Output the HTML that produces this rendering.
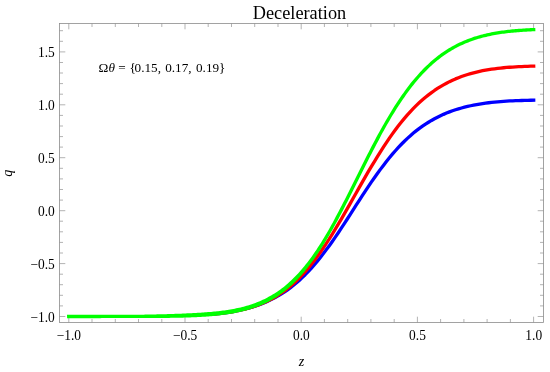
<!DOCTYPE html>
<html><head><meta charset="utf-8"><title>Deceleration</title>
<style>
html,body{margin:0;padding:0;background:#fff;}
svg{display:block;font-family:"Liberation Serif","DejaVu Serif",serif;fill:#000;}
.f{stroke:#8c8c8c;stroke-width:.8;fill:none}
.t{stroke:#808080;stroke-width:.6;fill:none}
.c{fill:none;stroke-width:3.3;stroke-linecap:square;stroke-linejoin:round}
.l{font-size:14px}
</style></head><body>
<svg width="550" height="372" viewBox="0 0 550 372">
<rect width="550" height="372" fill="#fff"/>
<path class="t" d="M68.8 322.5v-5.8M68.8 23.5v5.8M92.0 322.5v-3.5M92.0 23.5v3.5M115.3 322.5v-3.5M115.3 23.5v3.5M138.5 322.5v-3.5M138.5 23.5v3.5M161.8 322.5v-3.5M161.8 23.5v3.5M185.0 322.5v-5.8M185.0 23.5v5.8M208.2 322.5v-3.5M208.2 23.5v3.5M231.5 322.5v-3.5M231.5 23.5v3.5M254.7 322.5v-3.5M254.7 23.5v3.5M278.0 322.5v-3.5M278.0 23.5v3.5M301.2 322.5v-5.8M301.2 23.5v5.8M324.4 322.5v-3.5M324.4 23.5v3.5M347.7 322.5v-3.5M347.7 23.5v3.5M370.9 322.5v-3.5M370.9 23.5v3.5M394.2 322.5v-3.5M394.2 23.5v3.5M417.4 322.5v-5.8M417.4 23.5v5.8M440.6 322.5v-3.5M440.6 23.5v3.5M463.9 322.5v-3.5M463.9 23.5v3.5M487.1 322.5v-3.5M487.1 23.5v3.5M510.4 322.5v-3.5M510.4 23.5v3.5M533.6 322.5v-5.8M533.6 23.5v5.8M59.5 316.5h5.8M543.5 316.5h-5.8M59.5 305.9h3.5M543.5 305.9h-3.5M59.5 295.3h3.5M543.5 295.3h-3.5M59.5 284.7h3.5M543.5 284.7h-3.5M59.5 274.2h3.5M543.5 274.2h-3.5M59.5 263.6h5.8M543.5 263.6h-5.8M59.5 253.0h3.5M543.5 253.0h-3.5M59.5 242.4h3.5M543.5 242.4h-3.5M59.5 231.8h3.5M543.5 231.8h-3.5M59.5 221.2h3.5M543.5 221.2h-3.5M59.5 210.7h5.8M543.5 210.7h-5.8M59.5 200.1h3.5M543.5 200.1h-3.5M59.5 189.5h3.5M543.5 189.5h-3.5M59.5 178.9h3.5M543.5 178.9h-3.5M59.5 168.3h3.5M543.5 168.3h-3.5M59.5 157.7h5.8M543.5 157.7h-5.8M59.5 147.1h3.5M543.5 147.1h-3.5M59.5 136.6h3.5M543.5 136.6h-3.5M59.5 126.0h3.5M543.5 126.0h-3.5M59.5 115.4h3.5M543.5 115.4h-3.5M59.5 104.8h5.8M543.5 104.8h-5.8M59.5 94.2h3.5M543.5 94.2h-3.5M59.5 83.6h3.5M543.5 83.6h-3.5M59.5 73.0h3.5M543.5 73.0h-3.5M59.5 62.5h3.5M543.5 62.5h-3.5M59.5 51.9h5.8M543.5 51.9h-5.8M59.5 41.3h3.5M543.5 41.3h-3.5M59.5 30.7h3.5M543.5 30.7h-3.5"/>
<rect class="f" x="59.5" y="23.5" width="484.0" height="299.0"/>
<path class="c" stroke="#0000ff" d="M215.0 314.00 L218.0 313.68 L221.0 313.33 L224.0 312.94 L227.0 312.52 L230.0 312.05 L233.0 311.54 L236.0 310.99 L239.1 310.38 L242.1 309.72 L245.1 309.00 L248.1 308.21 L251.1 307.36 L254.1 306.44 L257.1 305.44 L260.1 304.36 L263.1 303.20 L266.1 301.94 L269.1 300.58 L272.1 299.13 L275.1 297.56 L278.1 295.88 L281.1 294.07 L284.2 292.14 L287.2 290.08 L290.2 287.89 L293.2 285.55 L296.2 283.06 L299.2 280.43 L302.2 277.64 L305.2 274.70 L308.2 271.61 L311.2 268.36 L314.2 264.95 L317.2 261.39 L320.2 257.68 L323.2 253.84 L326.2 249.85 L329.3 245.73 L332.3 241.50 L335.3 237.16 L338.3 232.73 L341.3 228.21 L344.3 223.63 L347.3 219.00 L350.3 214.34 L353.3 209.66 L356.3 204.97 L359.3 200.31 L362.3 195.68 L365.3 191.09 L368.3 186.57 L371.3 182.13 L374.4 177.78 L377.4 173.53 L380.4 169.40 L383.4 165.39 L386.4 161.51 L389.4 157.77 L392.4 154.17 L395.4 150.72 L398.4 147.41 L401.4 144.25 L404.4 141.24 L407.4 138.38 L410.4 135.66 L413.4 133.09 L416.4 130.65 L419.4 128.36 L422.5 126.19 L425.5 124.16 L428.5 122.24 L431.5 120.45 L434.5 118.77 L437.5 117.20 L440.5 115.73 L443.5 114.36 L446.5 113.09 L449.5 111.90 L452.5 110.80 L455.5 109.78 L458.5 108.84 L461.5 107.97 L464.5 107.16 L467.6 106.42 L470.6 105.74 L473.6 105.12 L476.6 104.55 L479.6 104.03 L482.6 103.56 L485.6 103.13 L488.6 102.74 L491.6 102.40 L494.6 102.08 L497.6 101.80 L500.6 101.55 L503.6 101.33 L506.6 101.14 L509.6 100.97 L512.7 100.82 L515.7 100.69 L518.7 100.57 L521.7 100.48 L524.7 100.39 L527.7 100.32 L530.7 100.26 L533.7 100.22"/>
<path class="c" stroke="#ff0000" d="M215.0 313.87 L218.0 313.57 L221.0 313.24 L224.0 312.88 L227.0 312.47 L230.0 312.03 L233.0 311.54 L236.0 311.00 L239.1 310.40 L242.1 309.75 L245.1 309.03 L248.1 308.24 L251.1 307.38 L254.1 306.43 L257.1 305.40 L260.1 304.28 L263.1 303.05 L266.1 301.72 L269.1 300.28 L272.1 298.71 L275.1 297.02 L278.1 295.19 L281.1 293.22 L284.2 291.10 L287.2 288.82 L290.2 286.39 L293.2 283.79 L296.2 281.01 L299.2 278.06 L302.2 274.94 L305.2 271.63 L308.2 268.14 L311.2 264.47 L314.2 260.63 L317.2 256.61 L320.2 252.42 L323.2 248.06 L326.2 243.55 L329.3 238.90 L332.3 234.11 L335.3 229.20 L338.3 224.18 L341.3 219.07 L344.3 213.88 L347.3 208.63 L350.3 203.34 L353.3 198.02 L356.3 192.69 L359.3 187.38 L362.3 182.09 L365.3 176.85 L368.3 171.66 L371.3 166.56 L374.4 161.54 L377.4 156.62 L380.4 151.81 L383.4 147.13 L386.4 142.58 L389.4 138.17 L392.4 133.91 L395.4 129.79 L398.4 125.84 L401.4 122.04 L404.4 118.39 L407.4 114.91 L410.4 111.59 L413.4 108.43 L416.4 105.42 L419.4 102.56 L422.5 99.86 L425.5 97.30 L428.5 94.89 L431.5 92.62 L434.5 90.48 L437.5 88.47 L440.5 86.59 L443.5 84.83 L446.5 83.19 L449.5 81.65 L452.5 80.23 L455.5 78.90 L458.5 77.67 L461.5 76.53 L464.5 75.48 L467.6 74.51 L470.6 73.62 L473.6 72.80 L476.6 72.05 L479.6 71.36 L482.6 70.74 L485.6 70.17 L488.6 69.65 L491.6 69.19 L494.6 68.77 L497.6 68.39 L500.6 68.05 L503.6 67.75 L506.6 67.48 L509.6 67.24 L512.7 67.03 L515.7 66.84 L518.7 66.68 L521.7 66.54 L524.7 66.41 L527.7 66.31 L530.7 66.21 L533.7 66.13"/>
<path fill="#00ff00" d="M67.1 318.14 L70.2 318.14 L71.7 318.14 L73.2 318.14 L74.7 318.14 L76.2 318.14 L77.7 318.14 L79.2 318.14 L80.7 318.14 L82.2 318.14 L83.7 318.14 L85.2 318.14 L86.7 318.14 L88.2 318.14 L89.7 318.13 L91.2 318.13 L92.7 318.13 L94.2 318.13 L95.7 318.13 L97.2 318.13 L98.7 318.13 L100.2 318.13 L101.7 318.12 L103.2 318.12 L104.7 318.12 L106.2 318.12 L107.7 318.12 L109.2 318.11 L110.7 318.11 L112.2 318.11 L113.7 318.11 L115.2 318.10 L116.7 318.10 L118.2 318.10 L119.7 318.09 L121.2 318.09 L122.7 318.09 L124.2 318.08 L125.7 318.08 L127.2 318.07 L128.7 318.07 L130.2 318.06 L131.7 318.06 L133.2 318.05 L134.7 318.04 L136.2 318.04 L137.7 318.03 L139.2 318.02 L140.7 318.02 L142.2 318.02 L143.7 318.02 L145.2 318.02 L146.7 318.01 L148.2 318.01 L149.7 318.01 L151.2 318.01 L152.7 318.00 L154.2 318.00 L155.7 317.99 L157.2 317.98 L158.7 317.97 L160.2 317.97 L161.7 317.95 L163.2 317.94 L164.7 317.93 L166.2 317.92 L167.7 317.90 L169.2 317.88 L170.7 317.86 L172.2 317.84 L173.7 317.82 L175.2 317.80 L176.7 317.77 L178.2 317.74 L179.8 317.71 L181.3 317.68 L182.8 317.64 L184.3 317.61 L185.8 317.56 L187.3 317.52 L188.8 317.47 L190.3 317.42 L191.8 317.37 L193.3 317.31 L194.8 317.25 L196.3 317.18 L197.8 317.10 L199.3 317.02 L200.8 316.93 L202.3 316.84 L203.8 316.74 L205.3 316.63 L206.8 316.53 L208.4 316.41 L209.9 316.29 L211.4 316.16 L212.9 316.02 L214.4 315.88 L215.9 315.73 L217.4 315.57 L218.9 315.41 L220.4 315.23 L221.9 315.05 L223.5 314.85 L225.0 314.64 L226.5 314.43 L228.0 314.20 L229.5 313.96 L231.0 313.71 L232.6 313.45 L234.1 313.17 L235.6 312.88 L237.1 312.57 L238.6 312.25 L240.1 311.91 L241.7 311.56 L243.2 311.19 L244.7 310.80 L246.2 310.39 L247.8 309.96 L249.3 309.51 L250.8 309.04 L252.3 308.55 L253.9 308.04 L255.4 307.50 L256.9 306.94 L258.4 306.35 L260.0 305.74 L261.5 305.09 L263.0 304.42 L264.5 303.73 L266.1 303.00 L267.6 302.24 L269.1 301.44 L270.7 300.62 L272.2 299.75 L273.7 298.85 L275.2 297.91 L276.8 296.93 L278.3 295.92 L279.8 294.87 L281.3 293.78 L282.8 292.65 L284.4 291.48 L285.9 290.26 L287.4 289.01 L288.9 287.71 L290.4 286.36 L292.0 284.97 L293.5 283.54 L295.0 282.05 L296.5 280.53 L298.0 278.95 L299.5 277.33 L301.0 275.65 L302.5 273.93 L304.1 272.16 L305.6 270.34 L307.1 268.47 L308.6 266.55 L310.1 264.58 L311.6 262.56 L313.1 260.49 L314.6 258.38 L316.1 256.21 L317.6 253.99 L319.1 251.73 L320.6 249.42 L322.1 247.06 L323.6 244.67 L325.1 242.22 L326.6 239.74 L328.1 237.21 L329.6 234.64 L331.1 232.03 L332.6 229.38 L334.1 226.69 L335.6 223.97 L337.2 221.21 L338.7 218.42 L340.2 215.60 L341.7 212.76 L343.2 209.89 L344.7 206.99 L346.2 204.07 L347.7 201.14 L349.2 198.18 L350.7 195.21 L352.2 192.23 L353.7 189.24 L355.2 186.24 L356.7 183.24 L358.2 180.23 L359.7 177.22 L361.2 174.22 L362.7 171.22 L364.2 168.23 L365.7 165.24 L367.2 162.27 L368.7 159.31 L370.2 156.36 L371.7 153.44 L373.2 150.53 L374.7 147.65 L376.2 144.79 L377.7 141.95 L379.2 139.14 L380.7 136.37 L382.1 133.62 L383.6 130.90 L385.1 128.22 L386.6 125.58 L388.1 122.97 L389.6 120.39 L391.1 117.86 L392.6 115.36 L394.1 112.91 L395.6 110.50 L397.1 108.12 L398.6 105.80 L400.1 103.51 L401.6 101.27 L403.1 99.07 L404.6 96.92 L406.0 94.81 L407.5 92.74 L409.0 90.72 L410.5 88.74 L412.0 86.81 L413.5 84.93 L415.0 83.09 L416.5 81.29 L418.0 79.53 L419.4 77.83 L420.9 76.16 L422.4 74.54 L423.9 72.96 L425.4 71.42 L426.9 69.92 L428.3 68.47 L429.8 67.05 L431.3 65.68 L432.8 64.34 L434.3 63.04 L435.8 61.79 L437.2 60.57 L438.7 59.38 L440.2 58.23 L441.7 57.12 L443.2 56.05 L444.6 55.00 L446.1 53.99 L447.6 53.02 L449.1 52.07 L450.6 51.16 L452.0 50.28 L453.5 49.42 L455.0 48.60 L456.5 47.81 L457.9 47.04 L459.4 46.30 L460.9 45.59 L462.4 44.90 L463.9 44.24 L465.3 43.60 L466.8 42.98 L468.3 42.39 L469.8 41.82 L471.3 41.28 L472.7 40.75 L474.2 40.25 L475.7 39.76 L477.2 39.30 L478.7 38.85 L480.1 38.43 L481.6 38.02 L483.1 37.62 L484.6 37.25 L486.1 36.89 L487.6 36.55 L489.0 36.22 L490.5 35.90 L492.0 35.60 L493.5 35.32 L495.0 35.05 L496.5 34.79 L498.0 34.54 L499.5 34.30 L500.9 34.08 L502.4 33.87 L503.9 33.66 L505.4 33.47 L506.9 33.29 L508.4 33.12 L509.9 32.95 L511.4 32.80 L512.9 32.65 L514.3 32.51 L515.8 32.38 L517.3 32.25 L518.8 32.14 L520.3 32.03 L521.8 31.92 L523.3 31.83 L524.8 31.73 L526.3 31.65 L527.8 31.57 L529.3 31.49 L530.8 31.42 L532.3 31.35 L535.4 31.22 L535.3 27.92 L532.1 28.05 L530.6 28.12 L529.1 28.19 L527.6 28.27 L526.1 28.35 L524.6 28.44 L523.1 28.53 L521.6 28.63 L520.1 28.74 L518.6 28.85 L517.1 28.97 L515.6 29.09 L514.1 29.22 L512.5 29.36 L511.0 29.51 L509.5 29.67 L508.0 29.84 L506.5 30.01 L505.0 30.20 L503.5 30.39 L502.0 30.60 L500.5 30.81 L498.9 31.04 L497.4 31.28 L495.9 31.53 L494.4 31.80 L492.9 32.08 L491.4 32.37 L489.9 32.67 L488.4 32.99 L486.8 33.33 L485.3 33.68 L483.8 34.05 L482.3 34.43 L480.8 34.83 L479.3 35.25 L477.7 35.69 L476.2 36.15 L474.7 36.62 L473.2 37.12 L471.7 37.64 L470.1 38.18 L468.6 38.74 L467.1 39.32 L465.6 39.93 L464.1 40.56 L462.5 41.21 L461.0 41.90 L459.5 42.60 L458.0 43.34 L456.5 44.10 L454.9 44.89 L453.4 45.71 L451.9 46.55 L450.4 47.43 L448.8 48.34 L447.3 49.28 L445.8 50.25 L444.3 51.25 L442.8 52.29 L441.2 53.36 L439.7 54.47 L438.2 55.61 L436.7 56.79 L435.2 58.00 L433.6 59.26 L432.1 60.55 L430.6 61.87 L429.1 63.24 L427.6 64.65 L426.1 66.09 L424.5 67.58 L423.0 69.11 L421.5 70.68 L420.0 72.29 L418.5 73.95 L417.0 75.64 L415.4 77.39 L413.9 79.17 L412.4 81.00 L410.9 82.87 L409.4 84.78 L407.9 86.74 L406.4 88.75 L404.9 90.80 L403.4 92.89 L401.8 95.02 L400.3 97.20 L398.8 99.43 L397.3 101.69 L395.8 104.00 L394.3 106.36 L392.8 108.75 L391.3 111.18 L389.8 113.66 L388.3 116.17 L386.8 118.73 L385.3 121.32 L383.8 123.94 L382.3 126.61 L380.8 129.30 L379.3 132.03 L377.7 134.79 L376.2 137.59 L374.7 140.41 L373.2 143.25 L371.7 146.12 L370.2 149.02 L368.7 151.93 L367.2 154.86 L365.7 157.81 L364.2 160.78 L362.7 163.76 L361.2 166.75 L359.7 169.74 L358.2 172.75 L356.7 175.75 L355.2 178.76 L353.7 181.76 L352.2 184.77 L350.7 187.76 L349.2 190.75 L347.7 193.73 L346.2 196.69 L344.7 199.64 L343.2 202.57 L341.7 205.47 L340.2 208.36 L338.7 211.22 L337.2 214.06 L335.7 216.86 L334.2 219.64 L332.8 222.38 L331.3 225.08 L329.8 227.75 L328.3 230.39 L326.8 232.98 L325.3 235.53 L323.8 238.04 L322.3 240.50 L320.8 242.92 L319.3 245.30 L317.8 247.62 L316.3 249.88 L314.8 252.10 L313.3 254.27 L311.8 256.39 L310.3 258.46 L308.8 260.48 L307.3 262.45 L305.8 264.36 L304.3 266.23 L302.8 268.04 L301.3 269.80 L299.8 271.52 L298.3 273.18 L296.8 274.79 L295.3 276.35 L293.8 277.86 L292.3 279.33 L290.8 280.75 L289.3 282.12 L287.8 283.44 L286.3 284.72 L284.9 285.95 L283.4 287.14 L281.9 288.29 L280.4 289.39 L278.9 290.46 L277.5 291.48 L276.0 292.47 L274.5 293.42 L273.0 294.33 L271.5 295.20 L270.1 296.04 L268.6 296.85 L267.1 297.64 L265.7 298.40 L264.2 299.13 L262.7 299.83 L261.3 300.50 L259.8 301.14 L258.3 301.76 L256.9 302.35 L255.4 302.91 L253.9 303.46 L252.5 303.97 L251.0 304.47 L249.5 304.94 L248.0 305.40 L246.6 305.83 L245.1 306.24 L243.6 306.64 L242.1 307.02 L240.7 307.38 L239.2 307.72 L237.7 308.05 L236.2 308.36 L234.8 308.66 L233.3 308.94 L231.8 309.21 L230.3 309.47 L228.8 309.72 L227.4 309.95 L225.9 310.17 L224.4 310.39 L222.9 310.59 L221.4 310.78 L219.9 310.96 L218.4 311.13 L217.0 311.30 L215.5 311.45 L214.0 311.60 L212.5 311.74 L211.0 311.88 L209.5 312.00 L208.0 312.12 L206.5 312.24 L205.0 312.35 L203.5 312.45 L202.1 312.55 L200.6 312.64 L199.1 312.72 L197.6 312.81 L196.1 312.89 L194.6 312.96 L193.1 313.05 L191.6 313.13 L190.1 313.21 L188.6 313.29 L187.1 313.37 L185.6 313.44 L184.1 313.50 L182.6 313.57 L181.1 313.63 L179.6 313.69 L178.1 313.75 L176.6 313.81 L175.2 313.86 L173.7 313.91 L172.2 313.96 L170.7 314.01 L169.2 314.05 L167.7 314.10 L166.2 314.14 L164.7 314.18 L163.2 314.22 L161.7 314.26 L160.2 314.30 L158.7 314.33 L157.2 314.37 L155.7 314.40 L154.2 314.44 L152.7 314.47 L151.2 314.50 L149.7 314.53 L148.2 314.56 L146.7 314.59 L145.2 314.62 L143.7 314.65 L142.2 314.68 L140.7 314.70 L139.2 314.72 L137.7 314.73 L136.2 314.74 L134.7 314.74 L133.2 314.75 L131.7 314.76 L130.2 314.76 L128.7 314.77 L127.2 314.77 L125.7 314.78 L124.2 314.78 L122.7 314.79 L121.2 314.79 L119.7 314.79 L118.2 314.80 L116.7 314.80 L115.2 314.80 L113.7 314.81 L112.2 314.81 L110.7 314.81 L109.2 314.81 L107.7 314.82 L106.2 314.82 L104.7 314.82 L103.2 314.82 L101.7 314.82 L100.2 314.83 L98.7 314.83 L97.2 314.83 L95.7 314.83 L94.2 314.83 L92.7 314.83 L91.2 314.83 L89.7 314.83 L88.2 314.84 L86.7 314.84 L85.2 314.84 L83.7 314.84 L82.2 314.84 L80.7 314.84 L79.2 314.84 L77.7 314.84 L76.2 314.84 L74.7 314.84 L73.2 314.84 L71.7 314.84 L70.2 314.84 L67.0 314.84Z"/>
<text x="299.5" y="18.5" font-size="18.3" text-anchor="middle">Deceleration</text>
<text y="71.6" font-size="13.2"><tspan x="98.6">Ω</tspan><tspan font-style="italic">θ</tspan> <tspan x="118.3">=</tspan> <tspan x="129.4">{</tspan><tspan x="134.6">0.15,</tspan> <tspan x="165.2">0.17,</tspan> <tspan x="196.0">0.19}</tspan></text>
<text class="l" transform="translate(68.9 339.5) scale(0.96 0.975)" text-anchor="middle">−1.0</text>
<text class="l" transform="translate(185.1 339.5) scale(0.96 0.975)" text-anchor="middle">−0.5</text>
<text class="l" transform="translate(301.3 339.5) scale(0.96 0.975)" text-anchor="middle">0.0</text>
<text class="l" transform="translate(417.5 339.5) scale(0.96 0.975)" text-anchor="middle">0.5</text>
<text class="l" transform="translate(533.7 339.5) scale(0.96 0.975)" text-anchor="middle">1.0</text>
<text class="l" transform="translate(54.8 321.9) scale(0.96 0.975)" text-anchor="end">−1.0</text>
<text class="l" transform="translate(54.8 269.0) scale(0.96 0.975)" text-anchor="end">−0.5</text>
<text class="l" transform="translate(54.8 216.1) scale(0.96 0.975)" text-anchor="end">0.0</text>
<text class="l" transform="translate(54.8 163.1) scale(0.96 0.975)" text-anchor="end">0.5</text>
<text class="l" transform="translate(54.8 110.2) scale(0.96 0.975)" text-anchor="end">1.0</text>
<text class="l" transform="translate(54.8 57.3) scale(0.96 0.975)" text-anchor="end">1.5</text>
<text class="l" x="301.5" y="365.6" text-anchor="middle" font-style="italic">z</text>
<text class="l" transform="translate(12.3 173.2) rotate(-90)" text-anchor="middle" font-style="italic">q</text>
</svg></body></html>
